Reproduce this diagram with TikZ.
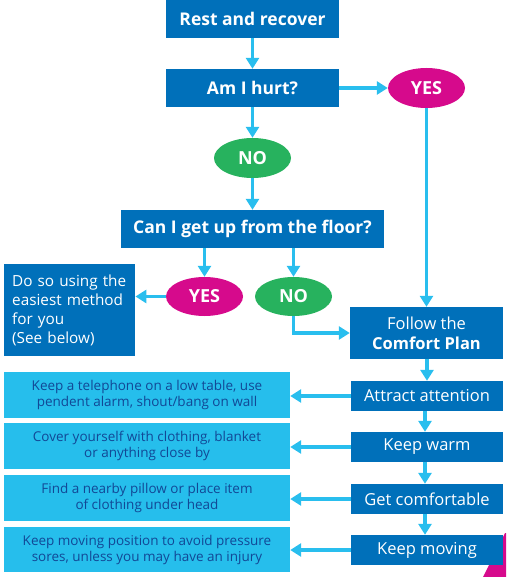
\documentclass[tikz,border=0pt]{standalone}
\usepackage{fontspec}
\setmainfont{Open Sans}
\usetikzlibrary{shapes.geometric,arrows.meta}
\definecolor{dblue}{RGB}{0,112,186}
\definecolor{cyanA}{RGB}{41,190,238}
\definecolor{lbox}{RGB}{38,190,236}
\definecolor{ltext}{RGB}{18,72,150}
\definecolor{mag}{RGB}{214,10,140}
\definecolor{grn}{RGB}{39,178,94}
\tikzset{
  dbox/.style={fill=dblue, text=white, inner sep=0pt, align=center},
  titlebox/.style={dbox, minimum height=38pt, font=\bfseries\fontsize{17.5}{20}\selectfont},
  lightbox/.style={fill=lbox, text=ltext, inner sep=0pt, align=center, minimum width=286pt, minimum height=46pt, font=\fontsize{13.5}{16}\selectfont},
  rbox/.style={dbox, minimum width=152pt, minimum height=30pt, font=\fontsize{16.5}{19}\selectfont},
  yesell/.style={ellipse, fill=mag, text=white, inner sep=0pt, minimum width=77pt, minimum height=40pt, font=\bfseries\fontsize{18}{20}\selectfont},
  noell/.style={ellipse, fill=grn, text=white, inner sep=0pt, minimum width=77pt, minimum height=40pt, font=\bfseries\fontsize{18}{20}\selectfont},
  conn/.style={draw=cyanA, line width=3.5pt, -{Triangle[length=11pt,width=13pt]}}
}
\begin{document}
\begin{tikzpicture}[x=1pt,y=-1pt]
\useasboundingbox (0,0) rectangle (506,577);
\fill[mag] (483,577) -- (505,533) -- (506,533) -- (506,577) -- cycle;
\node[titlebox, minimum width=173pt] (rest) at (252.5,19) {Rest and recover};
\node[titlebox, minimum width=173pt] (hurt) at (252.5,88) {Am I hurt?};
\node[yesell] (yes1) at (426.5,88) {YES};
\node[noell] (no1) at (252.5,158) {NO};
\node[titlebox, minimum width=263pt] (floor) at (252.5,229) {Can I get up from the floor?};
\node[dbox, minimum width=131pt, minimum height=92pt, align=left, anchor=north west, text width=121pt, inner xsep=5pt, font=\fontsize{15.3}{19}\selectfont] (doso) at (4,264) {\hspace*{3pt}Do so using the\\\hspace*{3pt}easiest method\\\hspace*{3pt}for you\\\hspace*{3pt}(See below)};
\node[yesell, minimum height=39pt] (yes2) at (204.5,296.5) {YES};
\node[noell, minimum height=39pt] (no2) at (293.5,296.5) {NO};
\node[dbox, minimum width=153pt, minimum height=52pt, font=\fontsize{16.5}{20}\selectfont] (follow) at (426.5,333) {Follow the\\\textbf{Comfort Plan}};
\node[rbox] (attract) at (427,396) {Attract attention};
\node[rbox] (warm) at (427,447) {Keep warm};
\node[rbox] (comf) at (427,499) {Get comfortable};
\node[rbox] (moving) at (427,550) {Keep moving};
\node[lightbox] (l1) at (147,395) {Keep a telephone on a low table, use\\pendent alarm, shout/bang on wall};
\node[lightbox] (l2) at (147,446) {Cover yourself with clothing, blanket\\or anything close by};
\node[lightbox] (l3) at (147,498) {Find a nearby pillow or place item\\of clothing under head};
\node[lightbox, minimum height=45pt] (l4) at (147,549.5) {Keep moving position to avoid pressure\\sores, unless you may have an injury};
\draw[conn] (rest) -- (hurt);
\draw[conn] (hurt) -- (no1);
\draw[conn] (hurt) -- (yes1);
\draw[conn] (no1) -- (floor);
\draw[conn] (yes1) -- (follow);
\draw[conn] (floor.south -| yes2) -- (yes2);
\draw[conn] (floor.south -| no2) -- (no2);
\draw[conn] (yes2.west) -- (doso.east |- yes2.west);
\draw[conn] (no2.south) |- (follow.west);
\draw[conn] (follow.south -| attract) -- (attract);
\draw[conn] ([xshift=-2pt]attract.south) -- ([xshift=-2pt]warm.north);
\draw[conn] ([xshift=-2pt]warm.south) -- ([xshift=-2pt]comf.north);
\draw[conn] ([xshift=-2pt]comf.south) -- ([xshift=-2pt]moving.north);
\draw[conn] (attract.west) -- (attract.west -| l1.east);
\draw[conn] (warm.west) -- (warm.west -| l2.east);
\draw[conn] (comf.west) -- (comf.west -| l3.east);
\draw[conn] (moving.west) -- (moving.west -| l4.east);
\end{tikzpicture}
\end{document}
